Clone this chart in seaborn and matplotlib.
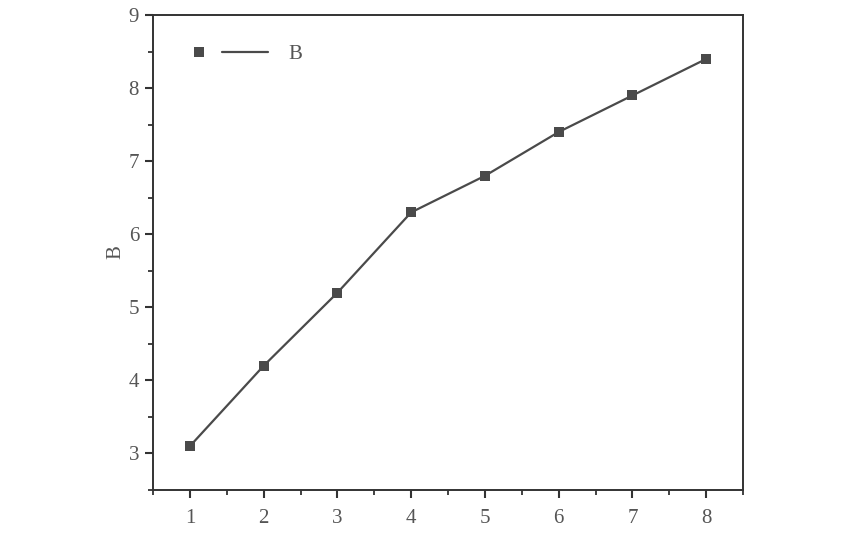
import matplotlib
matplotlib.use("Agg")
import matplotlib.pyplot as plt
import seaborn as sns
import pandas as pd
from matplotlib.lines import Line2D
from matplotlib.legend_handler import HandlerTuple
from matplotlib.ticker import MultipleLocator

x_vals = [1, 2, 3, 4, 5, 6, 7, 8]
b_vals = [3.1, 4.2, 5.2, 6.3, 6.8, 7.4, 7.9, 8.4]
x_label = "A"
y_label = "B"
series_name = "B"

sns.set_theme(style="ticks")
plt.rcParams['font.family'] = ['Liberation Serif', 'DejaVu Serif']

df = pd.DataFrame({"A": x_vals, "B": b_vals})

fig = plt.figure(figsize=(8.63, 5.40), dpi=100)
ax = fig.add_axes([0.1773, 0.0926, 0.861 - 0.1773, 0.972 - 0.0926])

line_color = "#4a4a4a"
sns.lineplot(data=df, x="A", y="B", ax=ax, color=line_color, marker="s",
             markersize=7, markeredgewidth=0, linewidth=1.6, legend=False)

ax.set_xlim(0.5, 8.5)
ax.set_ylim(2.5, 9)
ax.xaxis.set_major_locator(MultipleLocator(1))
ax.xaxis.set_minor_locator(MultipleLocator(0.5))
ax.yaxis.set_major_locator(MultipleLocator(1))
ax.yaxis.set_minor_locator(MultipleLocator(0.5))

spine_color = "#333333"
for s in ax.spines.values():
    s.set_color(spine_color)
    s.set_linewidth(1.4)
ax.tick_params(which="major", direction="out", length=6, width=1.5, color=spine_color,
               labelsize=15, labelcolor="#555555")
ax.tick_params(axis="x", which="major", pad=8)
ax.tick_params(axis="y", which="major", pad=4)
ax.tick_params(which="minor", direction="out", length=3.5, width=1.3, color=spine_color)
ax.tick_params(top=False, right=False, which="both")

ax.set_ylabel(y_label, fontsize=15, color="#555555", labelpad=2)
ax.set_xlabel(x_label, fontsize=15, color="#555555", labelpad=12)

mk = Line2D([], [], linestyle="none", marker="s", markersize=7, markeredgewidth=0, color=line_color)
ln = Line2D([], [], linestyle="-", linewidth=1.6, color=line_color)
leg = ax.legend(handles=[(mk, ln)], labels=[series_name],
                handler_map={tuple: HandlerTuple(ndivide=None, pad=0)},
                loc="upper left", frameon=False, handlelength=4.4, fontsize=15,
                bbox_to_anchor=(0.025, 0.955), handletextpad=1.0, borderaxespad=0)
for t in leg.get_texts():
    t.set_color("#555555")

fig.savefig("out.png", dpi=100, facecolor="white")
